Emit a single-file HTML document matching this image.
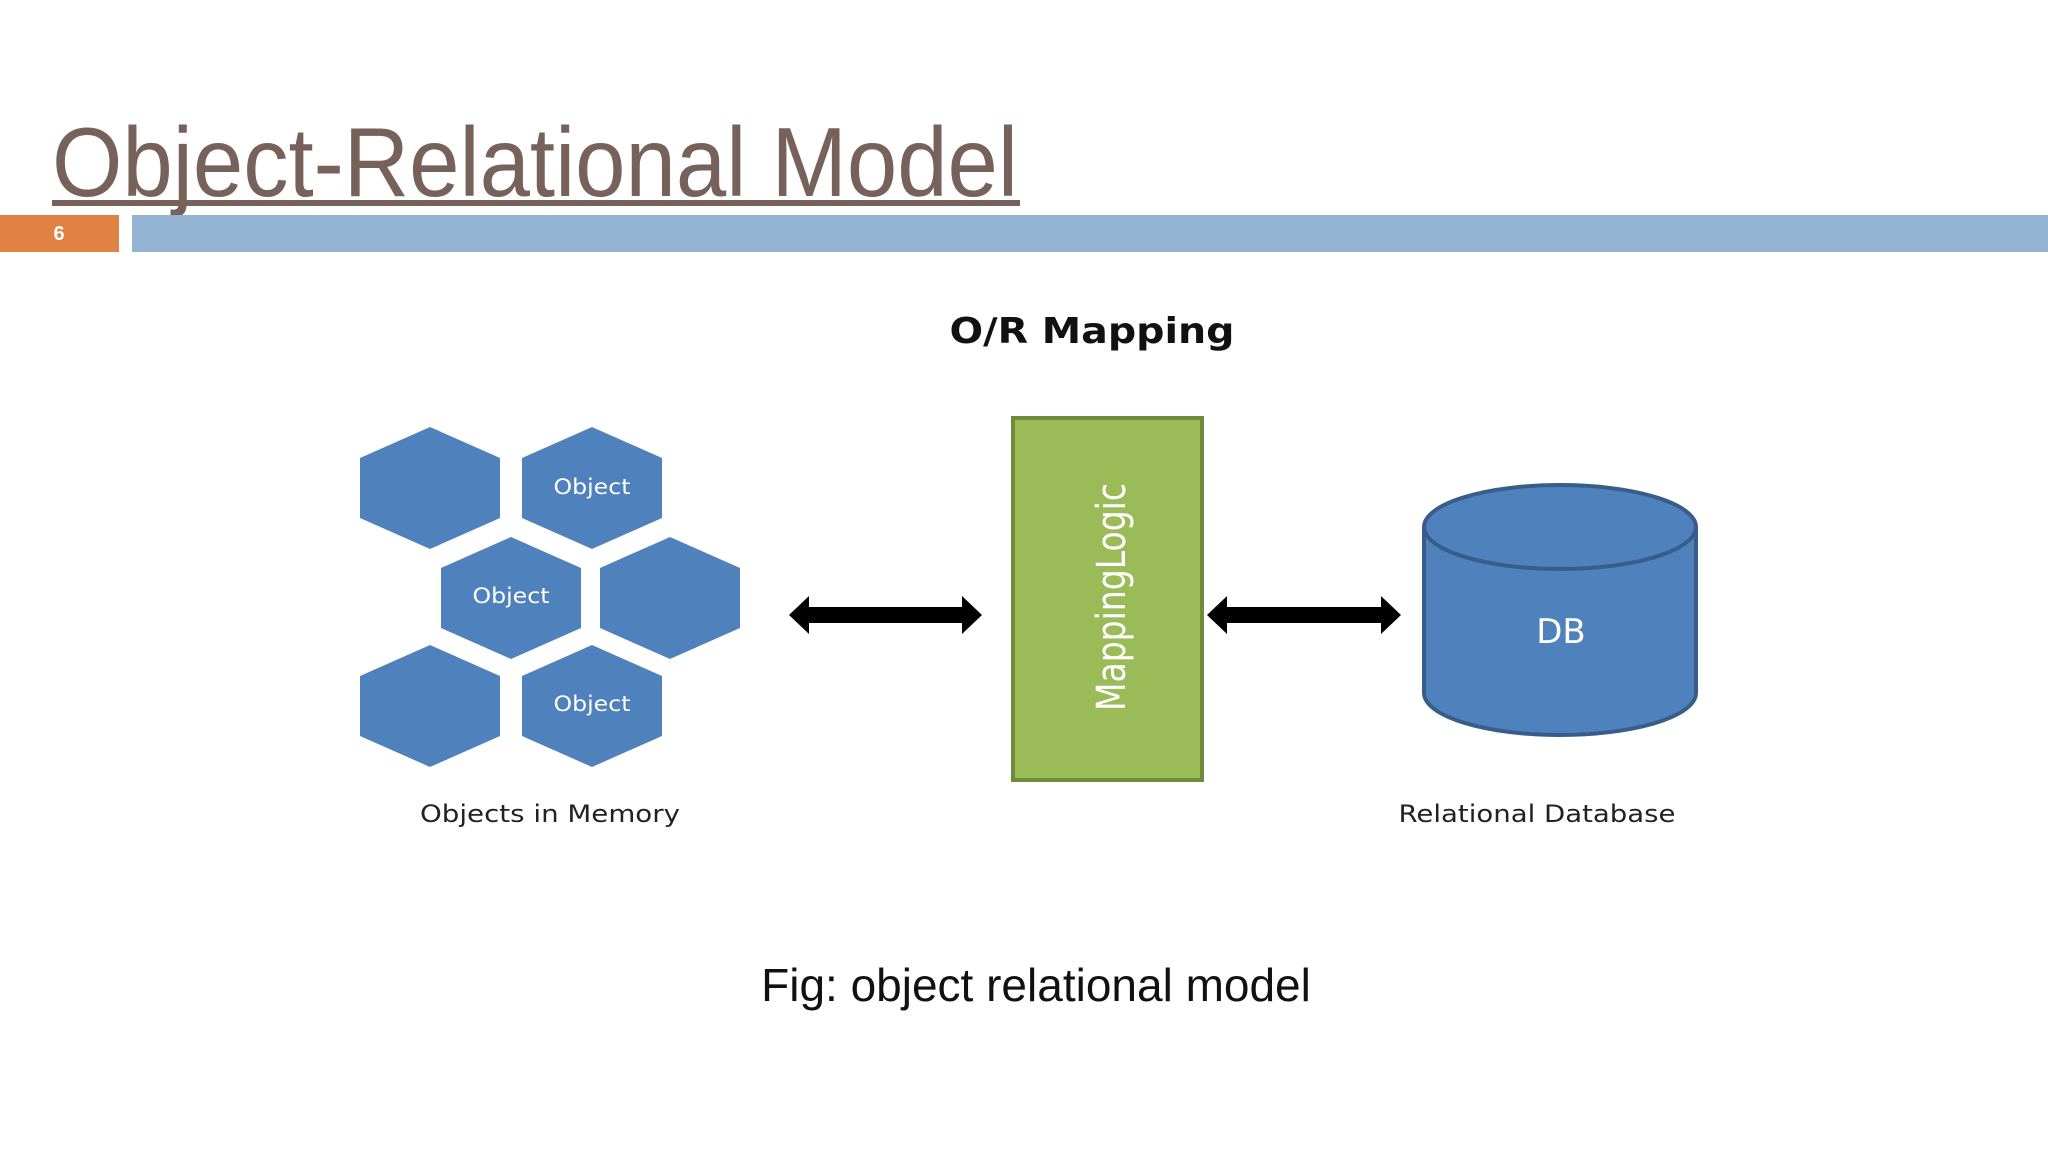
<!DOCTYPE html>
<html><head><style>
html,body{margin:0;padding:0;background:#fff;}
svg{display:block}
</style></head><body>
<svg width="2048" height="1152" viewBox="0 0 2048 1152" xmlns="http://www.w3.org/2000/svg">
<rect width="2048" height="1152" fill="#fff"/>
<text x="52" y="196" font-family="Liberation Sans, sans-serif" font-size="98" fill="#76625a" textLength="966" lengthAdjust="spacingAndGlyphs">Object-Relational Model</text>
<rect x="52" y="200" width="968" height="6" fill="#76625a"/>
<rect x="0" y="215" width="119" height="37" fill="#df8244"/>
<rect x="132" y="215" width="1916" height="37" fill="#93b3d3"/>
<text x="59" y="240" font-family="Liberation Sans, sans-serif" font-size="20" font-weight="bold" fill="#fff" text-anchor="middle">6</text>
<text x="1092" y="343" font-family="DejaVu Sans, sans-serif" font-size="36" font-weight="bold" fill="#111" text-anchor="middle" textLength="285" lengthAdjust="spacingAndGlyphs">O/R Mapping</text>
<g fill="#4f81bd">
<polygon points="430,427 500,458 500,518 430,549 360,518 360,458"/>
<polygon points="592,427 662,458 662,518 592,549 522,518 522,458"/>
<polygon points="511,537 581,568 581,628 511,659 441,628 441,568"/>
<polygon points="670,537 740,568 740,628 670,659 600,628 600,568"/>
<polygon points="430,645 500,676 500,736 430,767 360,736 360,676"/>
<polygon points="592,645 662,676 662,736 592,767 522,736 522,676"/>
</g>
<g font-family="DejaVu Sans, sans-serif" font-size="21" fill="#fff" text-anchor="middle">
<text x="592" y="494" textLength="77" lengthAdjust="spacingAndGlyphs">Object</text>
<text x="511" y="603" textLength="77" lengthAdjust="spacingAndGlyphs">Object</text>
<text x="592" y="711" textLength="77" lengthAdjust="spacingAndGlyphs">Object</text>
</g>
<g fill="#000">
<polygon points="789,615 809,596 809,607 962,607 962,596 982,615 962,634 962,623 809,623 809,634"/>
<polygon points="1207,615 1227,596 1227,607 1381,607 1381,596 1401,615 1381,634 1381,623 1227,623 1227,634"/>
</g>
<rect x="1013" y="418" width="189" height="362" fill="#9bbb59" stroke="#6e8c3a" stroke-width="4"/>
<text transform="translate(1125,597) rotate(-90)" font-family="DejaVu Sans, sans-serif" font-size="40" fill="#fff" text-anchor="middle" textLength="228" lengthAdjust="spacingAndGlyphs">MappingLogic</text>
<path d="M1424,527 L1424,693 A136,42 0 0 0 1696,693 L1696,527" fill="#4f81bd" stroke="#385d8a" stroke-width="4"/>
<ellipse cx="1560" cy="527" rx="136" ry="42" fill="#4f81bd" stroke="#385d8a" stroke-width="4"/>
<text x="1561" y="643" font-family="DejaVu Sans, sans-serif" font-size="34" fill="#fff" text-anchor="middle">DB</text>
<g font-family="DejaVu Sans, sans-serif" font-size="24" fill="#222" text-anchor="middle">
<text x="550" y="822" textLength="260" lengthAdjust="spacingAndGlyphs">Objects in Memory</text>
<text x="1537" y="822" textLength="277" lengthAdjust="spacingAndGlyphs">Relational Database</text>
</g>
<text x="1036" y="1001" font-family="Liberation Sans, sans-serif" font-size="46" fill="#111" text-anchor="middle">Fig: object relational model</text>
</svg>
</body></html>
